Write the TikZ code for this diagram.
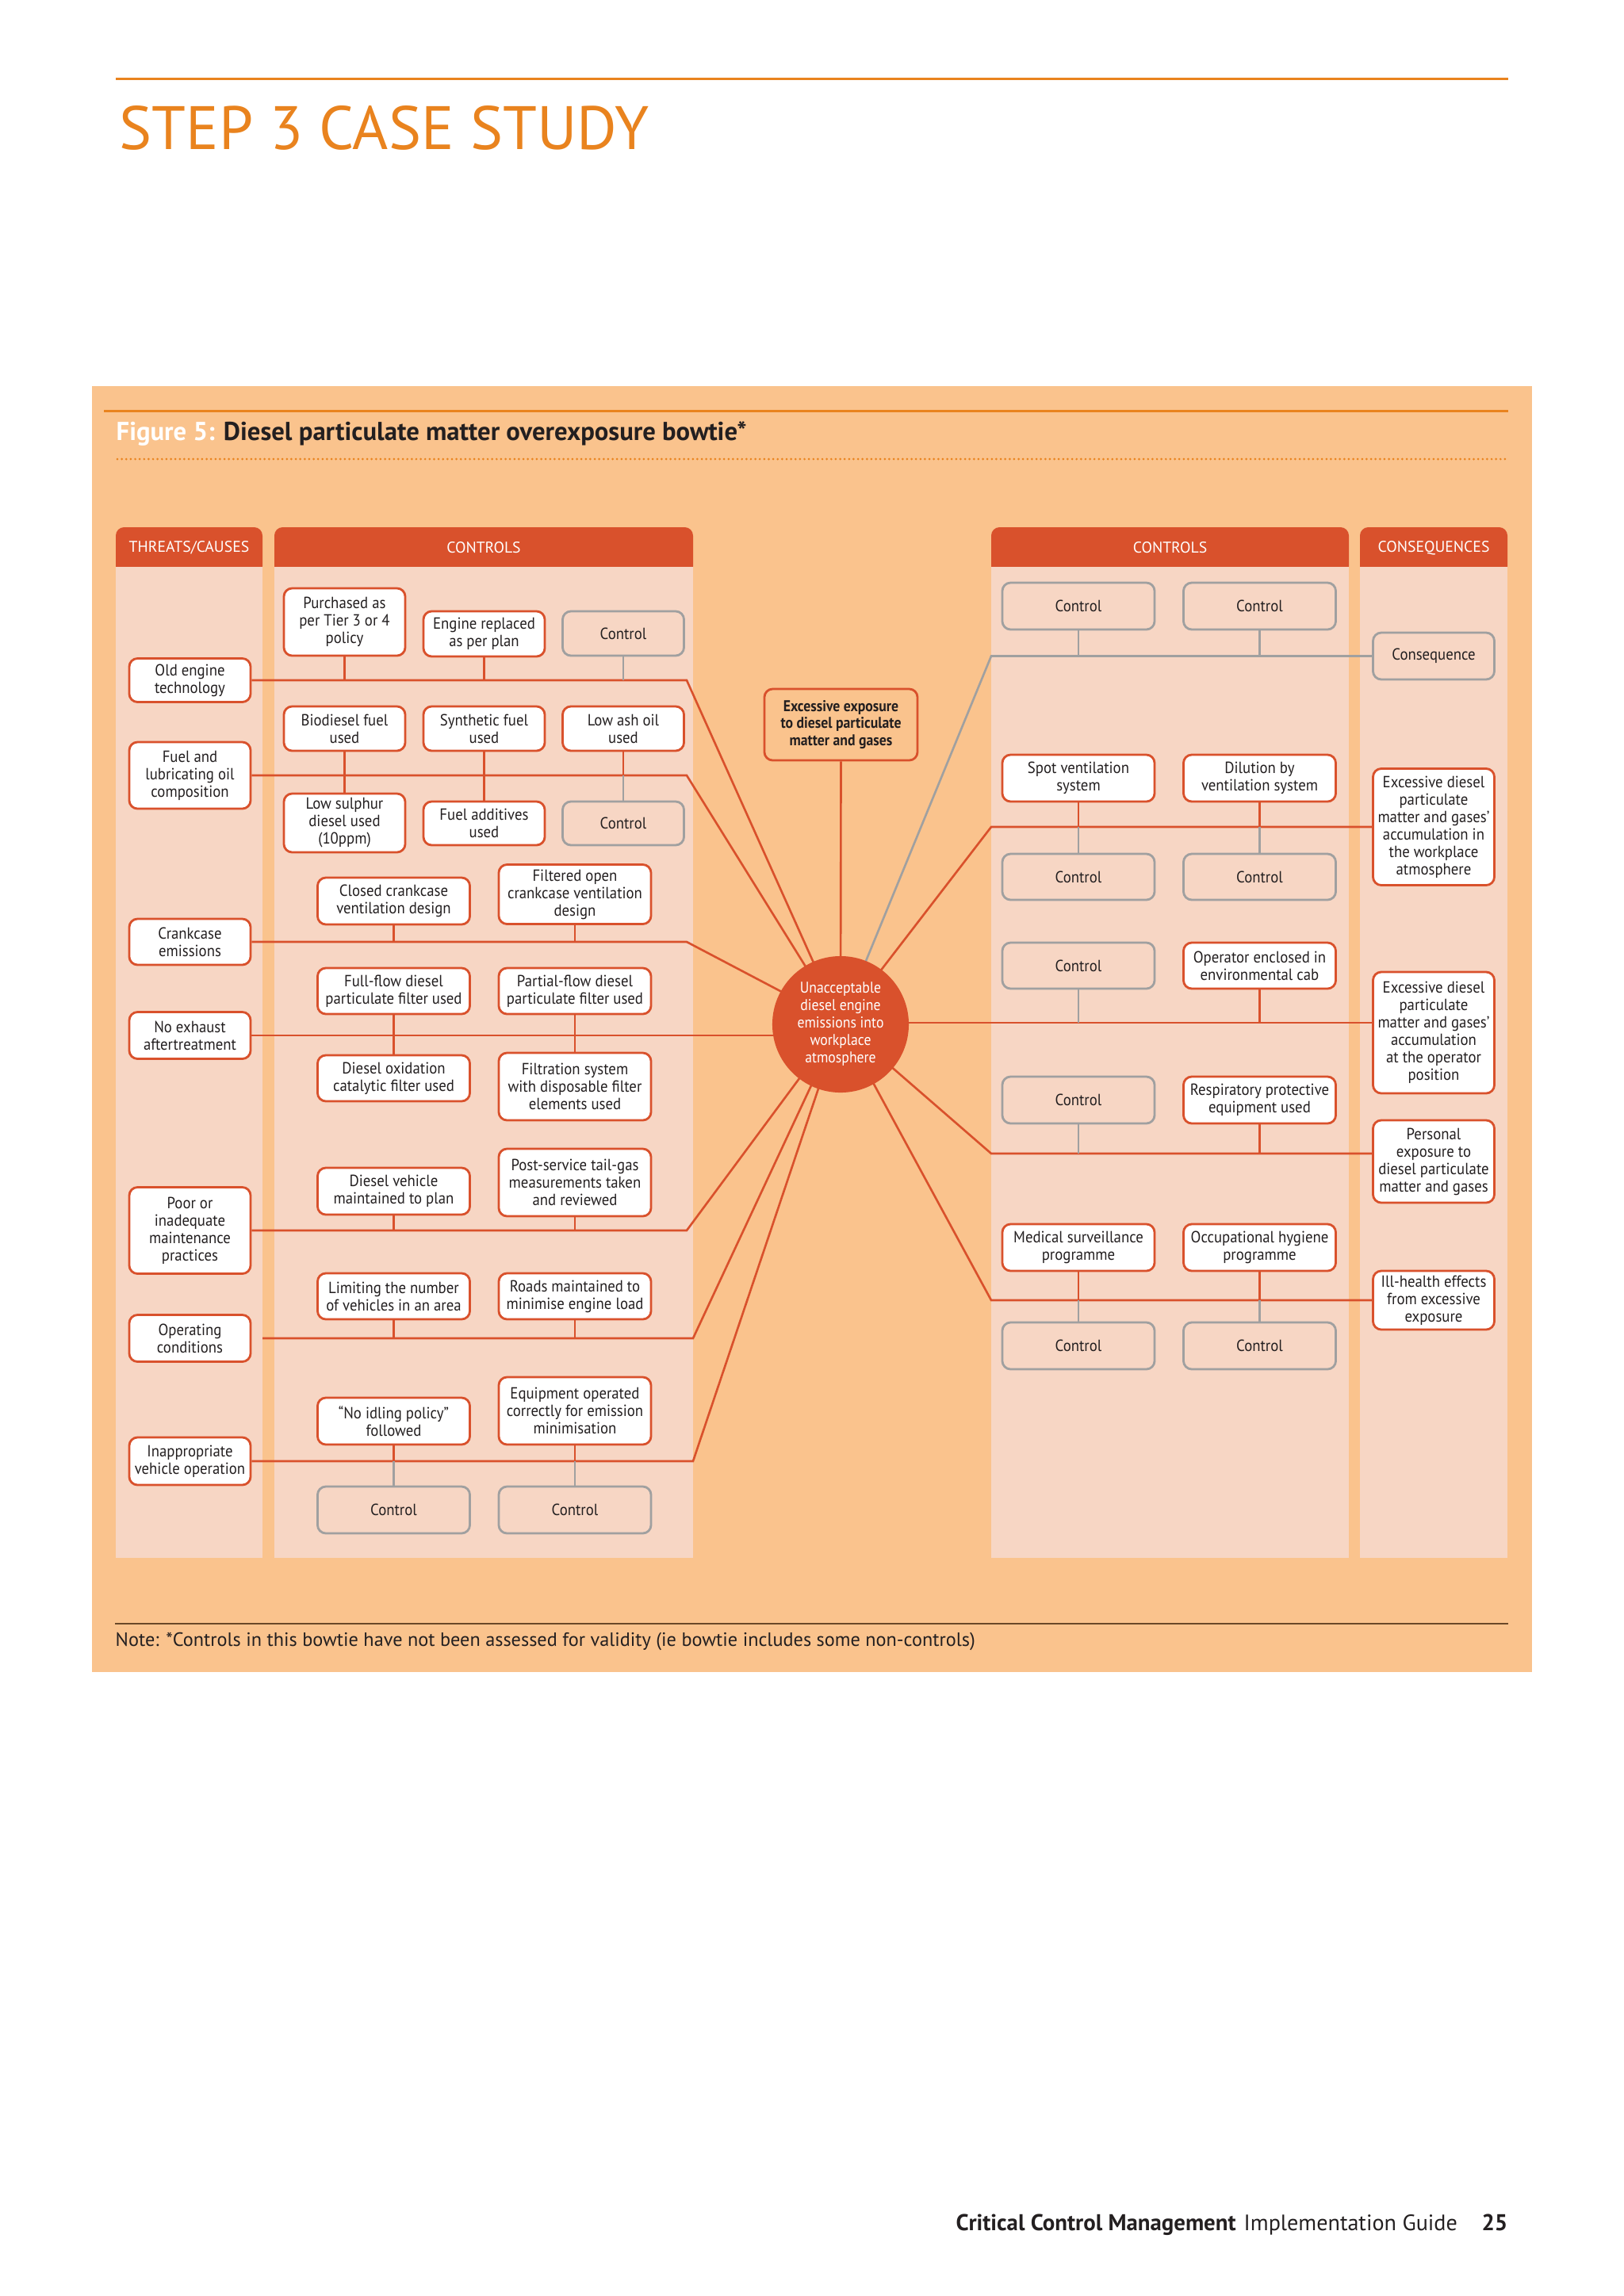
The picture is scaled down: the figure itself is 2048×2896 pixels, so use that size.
\documentclass[tikz,border=0pt]{standalone}
\usepackage{graphicx}
\usepackage{fontspec}
\setmainfont[FakeStretch=0.92]{PT Sans}
\newfontfamily\eventfont[FakeStretch=0.9]{PT Sans}
\newfontfamily\plainfont{PT Sans}

\definecolor{bowred}{RGB}{217,81,44}
\definecolor{rulegold}{RGB}{233,131,30}
\definecolor{panelbg}{RGB}{250,195,141}
\definecolor{colbg}{RGB}{247,214,196}
\definecolor{ctlgrey}{RGB}{160,160,160}
\definecolor{notebrown}{RGB}{105,72,40}
\definecolor{inkblack}{RGB}{35,31,32}

\begin{document}
\begin{tikzpicture}[x=0.01cm, y=-0.01cm,
    every node/.style={font=\fontsize{5.8}{6.25}\selectfont, text=inkblack},
    barrier/.style={draw=bowred, fill=white, line width=0.8pt, rounded corners=3pt, align=center, inner sep=1pt},
    blank/.style={draw=ctlgrey, line width=0.8pt, rounded corners=3pt, align=center, inner sep=1pt},
    narrow/.style={minimum width=1.53cm},
    wide/.style={minimum width=1.92cm},
    colhead/.style={text=white, font=\plainfont\fontsize{5.6}{6.2}\selectfont},
    redline/.style={draw=bowred, line width=0.75pt},
    greyline/.style={draw=ctlgrey, line width=0.75pt}]

    % Page
    \fill[white] (0,0) rectangle (2048,2896);
    \useasboundingbox (0,0) rectangle (2048,2896);
    \draw[rulegold, line width=0.85pt] (146,99) -- (1902,99);
    \node[anchor=north west, inner sep=0, text=rulegold] (title) at (150,133) {\resizebox{6.67cm}{0.55cm}{STEP 3 CASE STUDY}};

    % Figure panel
    \fill[panelbg] (116,487) rectangle (1932,2109);
    \draw[rulegold, line width=0.85pt] (131,518) -- (1902,518);
    \node[anchor=base west, inner sep=0, font=\plainfont\bfseries\fontsize{9.3}{11}\selectfont] (figtitle) at (146,555)
        {\textcolor{white}{Figure 5:} Diesel particulate matter overexposure bowtie*};
    \draw[rulegold, line width=0.85pt, line cap=round, dash pattern=on 0pt off 1.6pt] (148,579) -- (1902,579);

    % Columns
    \foreach \xa/\xb in {146/331, 346/874, 1250/1701, 1715/1901} {
        \fill[bowred, rounded corners=3pt] (\xa,665) rectangle (\xb,725);
        \fill[colbg] (\xa,715) rectangle (\xb,1965);
    }
    \node[colhead] (hthreat) at (238.5,691) {THREATS/CAUSES};
    \node[colhead] (hctlL) at (610,691) {CONTROLS};
    \node[colhead] (hctlR) at (1475.5,691) {CONTROLS};
    \node[colhead] (hcons) at (1808,691) {CONSEQUENCES};

    % Threats
    \node[barrier, narrow, minimum height=0.55cm] (t1) at (239.5,858) {Old engine\\technology};
    \node[barrier, narrow, minimum height=0.84cm] (t2) at (239.5,978) {Fuel and\\lubricating oil\\composition};
    \node[barrier, narrow, minimum height=0.58cm] (t3) at (239.5,1188) {Crankcase\\emissions};
    \node[barrier, narrow, minimum height=0.59cm] (t4) at (239.5,1306) {No exhaust\\aftertreatment};
    \node[barrier, narrow, minimum height=1.09cm] (t5) at (239.5,1552) {Poor or\\inadequate\\maintenance\\practices};
    \node[barrier, narrow, minimum height=0.59cm] (t6) at (239.5,1688) {Operating\\conditions};
    \node[barrier, narrow, minimum height=0.60cm] (t7) at (239.5,1843) {Inappropriate\\vehicle operation};

    % Left controls
    \node[barrier, narrow, minimum height=0.85cm] (a1) at (434.5,784.5) {Purchased as\\per Tier 3 or 4\\policy};
    \node[barrier, narrow, minimum height=0.57cm] (a2) at (610.5,799.5) {Engine replaced\\as per plan};
    \node[blank, narrow, minimum height=0.56cm] (a3) at (786,799) {Control};
    \node[barrier, narrow, minimum height=0.56cm] (b1) at (434.5,919) {Biodiesel fuel\\used};
    \node[barrier, narrow, minimum height=0.56cm] (b2) at (610.5,919) {Synthetic fuel\\used};
    \node[barrier, narrow, minimum height=0.56cm] (b3) at (786,919) {Low ash oil\\used};
    \node[barrier, narrow, minimum height=0.74cm] (b4) at (434.5,1038) {Low sulphur\\diesel used\\(10ppm)};
    \node[barrier, narrow, minimum height=0.55cm] (b5) at (610.5,1038.5) {Fuel additives\\used};
    \node[blank, narrow, minimum height=0.55cm] (b6) at (786,1038.5) {Control};
    \node[barrier, wide, minimum height=0.59cm] (c1) at (496.5,1136.5) {Closed crankcase\\ventilation design};
    \node[barrier, wide, minimum height=0.75cm] (c2) at (725,1128) {Filtered open\\crankcase ventilation\\design};
    \node[barrier, wide, minimum height=0.58cm] (d1) at (496.5,1250) {Full-flow diesel\\particulate filter used};
    \node[barrier, wide, minimum height=0.58cm] (d2) at (725,1250) {Partial-flow diesel\\particulate filter used};
    \node[barrier, wide, minimum height=0.58cm] (d3) at (496.5,1360) {Diesel oxidation\\catalytic filter used};
    \node[barrier, wide, minimum height=0.85cm] (d4) at (725,1370.5) {Filtration system\\with disposable filter\\elements used};
    \node[barrier, wide, minimum height=0.59cm] (e1) at (496.5,1502.5) {Diesel vehicle\\maintained to plan};
    \node[barrier, wide, minimum height=0.85cm] (e2) at (725,1491.5) {Post-service tail-gas\\measurements taken\\and reviewed};
    \node[barrier, wide, minimum height=0.58cm] (f1) at (496.5,1635) {Limiting the number\\of vehicles in an area};
    \node[barrier, wide, minimum height=0.58cm] (f2) at (725,1635) {Roads maintained to\\minimise engine load};
    \node[barrier, wide, minimum height=0.59cm] (g1) at (496.5,1792.5) {“No idling policy”\\followed};
    \node[barrier, wide, minimum height=0.85cm] (g2) at (725,1779.5) {Equipment operated\\correctly for emission\\minimisation};
    \node[blank, wide, minimum height=0.59cm] (g3) at (496.5,1904.5) {Control};
    \node[blank, wide, minimum height=0.59cm] (g4) at (725,1904.5) {Control};

    % Consequences
    \node[blank, narrow, minimum height=0.59cm] (k1) at (1808,827.5) {Consequence};
    \node[barrier, narrow, minimum height=1.47cm] (k2) at (1808,1043) {Excessive diesel\\particulate\\matter and gases’\\accumulation in\\the workplace\\atmosphere};
    \node[barrier, narrow, minimum height=1.53cm] (k3) at (1808,1302.5) {Excessive diesel\\particulate\\matter and gases’\\accumulation\\at the operator\\position};
    \node[barrier, narrow, minimum height=1.04cm] (k4) at (1808,1465) {Personal\\exposure to\\diesel particulate\\matter and gases};
    \node[barrier, narrow, minimum height=0.74cm] (k5) at (1808,1640) {Ill-health effects\\from excessive\\exposure};
    \coordinate (k4in) at ([yshift=0.1cm]k4.west);

    % Right controls
    \node[blank, wide, minimum height=0.59cm] (p1) at (1360,764.5) {Control};
    \node[blank, wide, minimum height=0.59cm] (p2) at (1588.5,764.5) {Control};
    \node[barrier, wide, minimum height=0.59cm] (q1) at (1360,981.5) {Spot ventilation\\system};
    \node[barrier, wide, minimum height=0.59cm] (q2) at (1588.5,981.5) {Dilution by\\ventilation system};
    \node[blank, wide, minimum height=0.58cm] (q3) at (1360,1106) {Control};
    \node[blank, wide, minimum height=0.58cm] (q4) at (1588.5,1106) {Control};
    \node[blank, wide, minimum height=0.58cm] (r1) at (1360,1218) {Control};
    \node[barrier, wide, minimum height=0.58cm] (r2) at (1588.5,1218) {Operator enclosed in\\environmental cab};
    \node[blank, wide, minimum height=0.59cm] (s1) at (1360,1387.5) {Control};
    \node[barrier, wide, minimum height=0.59cm] (s2) at (1588.5,1387.5) {Respiratory protective\\equipment used};
    \node[barrier, wide, minimum height=0.59cm] (u1) at (1360,1573.5) {Medical surveillance\\programme};
    \node[barrier, wide, minimum height=0.59cm] (u2) at (1588.5,1573.5) {Occupational hygiene\\programme};
    \node[blank, wide, minimum height=0.59cm] (u3) at (1360,1697.5) {Control};
    \node[blank, wide, minimum height=0.59cm] (u4) at (1588.5,1697.5) {Control};

    % Top event and hazard
    \coordinate (hub) at (1060,1290);
    \coordinate (kinkA) at (866,0);
    \coordinate (kinkB) at (874,0);
    \coordinate (gapL) at (331,0);
    \coordinate (kinkR) at (1250,0);
    \node[draw=bowred, line width=0.8pt, rounded corners=3pt, minimum width=1.93cm, minimum height=0.9cm, align=center,
        font=\eventfont\bfseries\fontsize{5.6}{6.2}\selectfont] (hazard) at (1060.5,914)
        {Excessive exposure\\to diesel particulate\\matter and gases};

    % Threat lines into the top event
    \draw[redline] (t1.east) -- (t1.east -| kinkA) -- (hub);
    \draw[redline] (t2.east) -- (t2.east -| kinkA) -- (hub);
    \draw[redline] (t3.east) -- (t3.east -| kinkA) -- (hub);
    \draw[redline] (t4.east) -- (t4.east -| hub);
    \draw[redline] (t5.east) -- (t5.east -| kinkA) -- (hub);
    \draw[redline] (t6.east -| gapL) -- (t6.east -| kinkB) -- (hub);
    \draw[redline] (t7.east) -- (t7.east -| kinkB) -- (hub);
    \draw[redline] (hazard.south) -- (hub);

    % Consequence lines
    \draw[greyline] (k1.west) -- (k1.west -| kinkR) -- (hub);
    \draw[redline] (k2.west) -- (k2.west -| kinkR) -- (hub);
    \draw[redline] (hub) -- (hub -| k3.west);
    \draw[redline] (k4in) -- (k4in -| kinkR) -- (hub);
    \draw[redline] (k5.west) -- (k5.west -| kinkR) -- (hub);

    % Barrier drops
    \foreach \c/\t in {a1/t1, a2/t1, b1/t2, b2/t2, b3/t2, c1/t3, c2/t3, d1/t4, d2/t4, e1/t5, e2/t5, f1/t6, f2/t6, g1/t7, g2/t7}
        \draw[redline] (\c.south) -- (\c.south |- \t.east);
    \foreach \c/\t in {b4/t2, b5/t2, d3/t4, d4/t4}
        \draw[redline] (\c.north) -- (\c.north |- \t.east);
    \foreach \c/\t in {b6/t2, g3/t7, g4/t7}
        \draw[greyline] (\c.north) -- (\c.north |- \t.east);
    \draw[greyline] (a3.south) -- (a3.south |- t1.east);

    \foreach \c/\t in {p1/k1, p2/k1}
        \draw[greyline] (\c.south) -- (\c.south |- \t.west);
    \foreach \c/\t in {q1/k2, q2/k2, u1/k5, u2/k5}
        \draw[redline] (\c.south) -- (\c.south |- \t.west);
    \foreach \c/\t in {q3/k2, q4/k2, u3/k5, u4/k5}
        \draw[greyline] (\c.north) -- (\c.north |- \t.west);
    \draw[greyline] (r1.south) -- (r1.south |- hub);
    \draw[redline] (r2.south) -- (r2.south |- hub);
    \draw[greyline] (s1.south) -- (s1.south |- k4in);
    \draw[redline] (s2.south) -- (s2.south |- k4in);

    % Top event circle (drawn last, over the spokes)
    \node[circle, fill=bowred, minimum size=1.72cm, inner sep=0, align=center, text=white,
        font=\eventfont\fontsize{5.6}{6.25}\selectfont] (event) at ([yshift=-0.02cm]hub)
        {Unacceptable\\diesel engine\\emissions into\\workplace\\atmosphere};

    % Note
    \draw[notebrown, line width=0.6pt] (145,2048) -- (1902,2048);
    \node[anchor=base west, inner sep=0, font=\plainfont\fontsize{6.9}{8}\selectfont] (note) at (145,2076)
        {Note: *Controls in this bowtie have not been assessed for validity (ie bowtie includes some non-controls)};

    % Footer
    \node[anchor=base west, inner sep=0, font=\plainfont\bfseries\fontsize{8.2}{10}\selectfont] (guideA) at (1205,2813) {Critical Control Management};
    \node[anchor=base west, inner sep=0, font=\plainfont\fontsize{8.0}{10}\selectfont] (guideB) at (1568,2813) {Implementation Guide};
    \node[anchor=base east, inner sep=0, font=\plainfont\bfseries\fontsize{8.2}{10}\selectfont] (pageno) at (1902,2813) {25};

\end{tikzpicture}
\end{document}
